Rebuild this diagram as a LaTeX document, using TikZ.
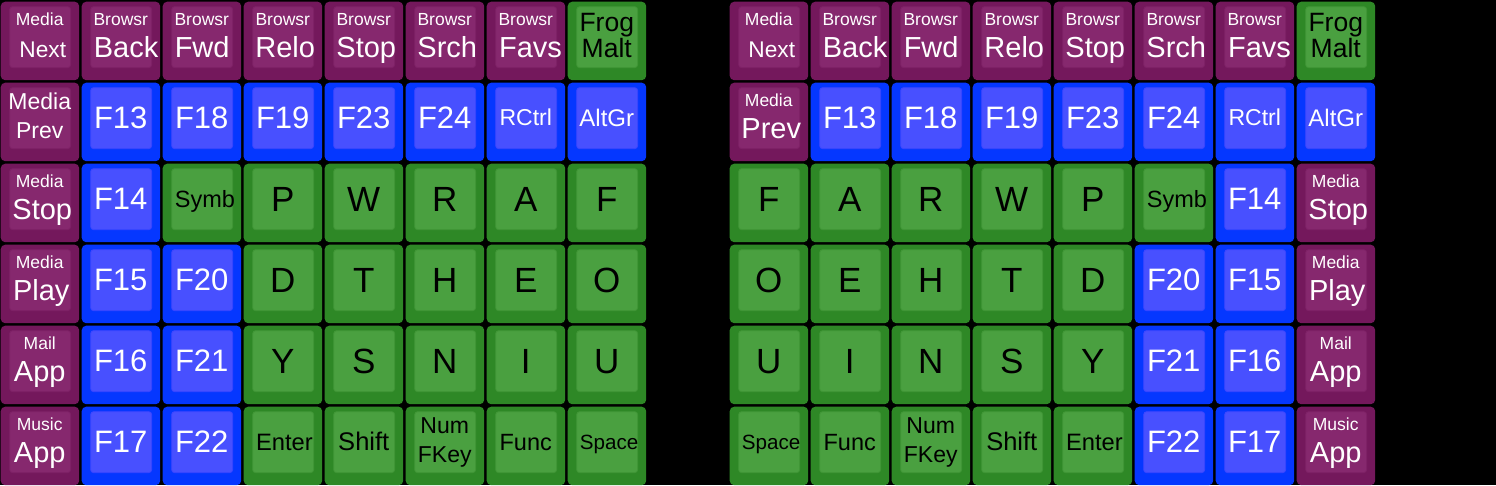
\documentclass[tikz,border=0pt]{standalone}
\usepackage{fontspec}
\setmainfont{Liberation Sans}
\usetikzlibrary{positioning}

\definecolor{purout}{RGB}{116,24,92}
\definecolor{purin}{RGB}{134,40,110}
\definecolor{purrim}{RGB}{126,33,102}
\definecolor{bluout}{RGB}{5,55,255}
\definecolor{bluin}{RGB}{72,80,255}
\definecolor{blurim}{RGB}{60,70,255}
\definecolor{grnout}{RGB}{46,136,38}
\definecolor{grnin}{RGB}{74,160,64}
\definecolor{grnrim}{RGB}{64,150,54}
\colorlet{purtext}{white}
\colorlet{blutext}{white}
\colorlet{grntext}{black}

\tikzset{
	keybody/.style={rounded corners=4.5pt, minimum width=78.5pt, minimum height=78.5pt, inner sep=0pt, anchor=north west},
	keytop/.style={rounded corners=3pt, line width=0.8pt, minimum width=61pt, minimum height=61pt, inner sep=0pt, anchor=north west},
	keytext/.style={anchor=base, inner sep=0pt}
}

% key cap: column, row, colour
\newcommand{\keyback}[3]{%
	\node[keybody, fill=#3out] (k-#1-#2) at (81*#1+0.5, 81*#2+1.5) {};
	\node[keytop, fill=#3in, draw=#3rim] (k-#1-#2-top) at (81*#1+9.25, 81*#2+6.25) {};
}
% one label: column, row, colour, text, size, shift
\newcommand{\keyone}[6]{%
	\keyback{#1}{#2}{#3}
	\node[keytext, text=#3text, font=\fontsize{#5}{#5}\selectfont] (k-#1-#2-label) at (81*#1+39.75+#6, 81*#2+36.75+0.358*#5) {#4};
}
% two labels: column, row, colour, upper, lower, upper size, lower size, upper base, shift
\newcommand{\keytwo}[9]{%
	\keyback{#1}{#2}{#3}
	\node[keytext, text=#3text, font=\fontsize{#6}{#6}\selectfont] (k-#1-#2-upper) at (81*#1+39.75, 81*#2+#8) {#4};
	\node[keytext, text=#3text, font=\fontsize{#7}{#7}\selectfont] (k-#1-#2-lower) at (81*#1+39.75+#9, 81*#2+57.5) {#5};
}

\begin{document}
\begin{tikzpicture}[x=1pt, y=-1pt]
	\fill[black] (0,0) rectangle (1496,485);
	\useasboundingbox (0,0) rectangle (1496,485);
	% top two rows, the same on both halves
	\foreach \h in {0,9}{
		\keytwo{\h}{0}{pur}{Media}{Next}{17.5}{22.7}{25}{3}
		\foreach \t/\s [count=\i] in {Back/5.3, Fwd/0.4, Relo/2.5, Stop/2.5, Srch/2.5, Favs/4.8}{
			\pgfmathtruncatemacro\k{\h+\i}
			\keytwo{\k}{0}{pur}{Browsr}{\t}{17.5}{29}{25}{\s}}
		\pgfmathtruncatemacro\k{\h+7}
		\keytwo{\k}{0}{grn}{Frog}{Malt}{26.5}{26.5}{31.5}{0}
		\foreach \t/\f [count=\i] in {F13/31, F18/31, F19/31, F23/31, F24/31, RCtrl/23, AltGr/24}{
			\pgfmathtruncatemacro\k{\h+\i}
			\keyone{\k}{1}{blu}{\t}{\f}{0}}
	}
	\keytwo{0}{1}{pur}{Media}{Prev}{23}{23}{28.3}{0}
	\keytwo{9}{1}{pur}{Media}{Prev}{17.5}{29}{25}{2.5}
	% lower four rows, right half mirrored
	\foreach \m in {0,16}{
		\foreach \u/\t/\s [count=\r from 2] in {Media/Stop/2.5, Media/Play/1.5, Mail/App/0, Music/App/0}{
			\pgfmathtruncatemacro\k{abs(\m-0)}
			\keytwo{\k}{\r}{pur}{\u}{\t}{17.5}{29}{25}{\s}}
		\foreach \t [count=\r from 2] in {F14,F15,F16,F17}{
			\pgfmathtruncatemacro\k{abs(\m-1)}
			\keyone{\k}{\r}{blu}{\t}{31}{0}}
		\pgfmathtruncatemacro\k{abs(\m-2)}
		\keyone{\k}{2}{grn}{Symb}{23.5}{3.2}
		\foreach \t [count=\r from 3] in {F20,F21,F22}{
			\keyone{\k}{\r}{blu}{\t}{31}{0}}
		\foreach \p/\q/\v [count=\i from 3] in {P/D/Y, W/T/S, R/H/N, A/E/I, F/O/U}{
			\pgfmathtruncatemacro\k{abs(\m-\i)}
			\keyone{\k}{2}{grn}{\p}{35}{0}
			\keyone{\k}{3}{grn}{\q}{35}{0}
			\keyone{\k}{4}{grn}{\v}{35}{0}}
		\foreach \t/\f/\s [count=\i from 3] in {Enter/23.7/1.7, Shift/25.5/0}{
			\pgfmathtruncatemacro\k{abs(\m-\i)}
			\keyone{\k}{5}{grn}{\t}{\f}{\s}}
		\pgfmathtruncatemacro\k{abs(\m-5)}
		\keytwo{\k}{5}{grn}{Num}{FKey}{23}{23}{28.3}{0}
		\foreach \t/\f/\s [count=\i from 6] in {Func/23.5/0, Space/20.6/2.3}{
			\pgfmathtruncatemacro\k{abs(\m-\i)}
			\keyone{\k}{5}{grn}{\t}{\f}{\s}}
	}
\end{tikzpicture}
\end{document}
